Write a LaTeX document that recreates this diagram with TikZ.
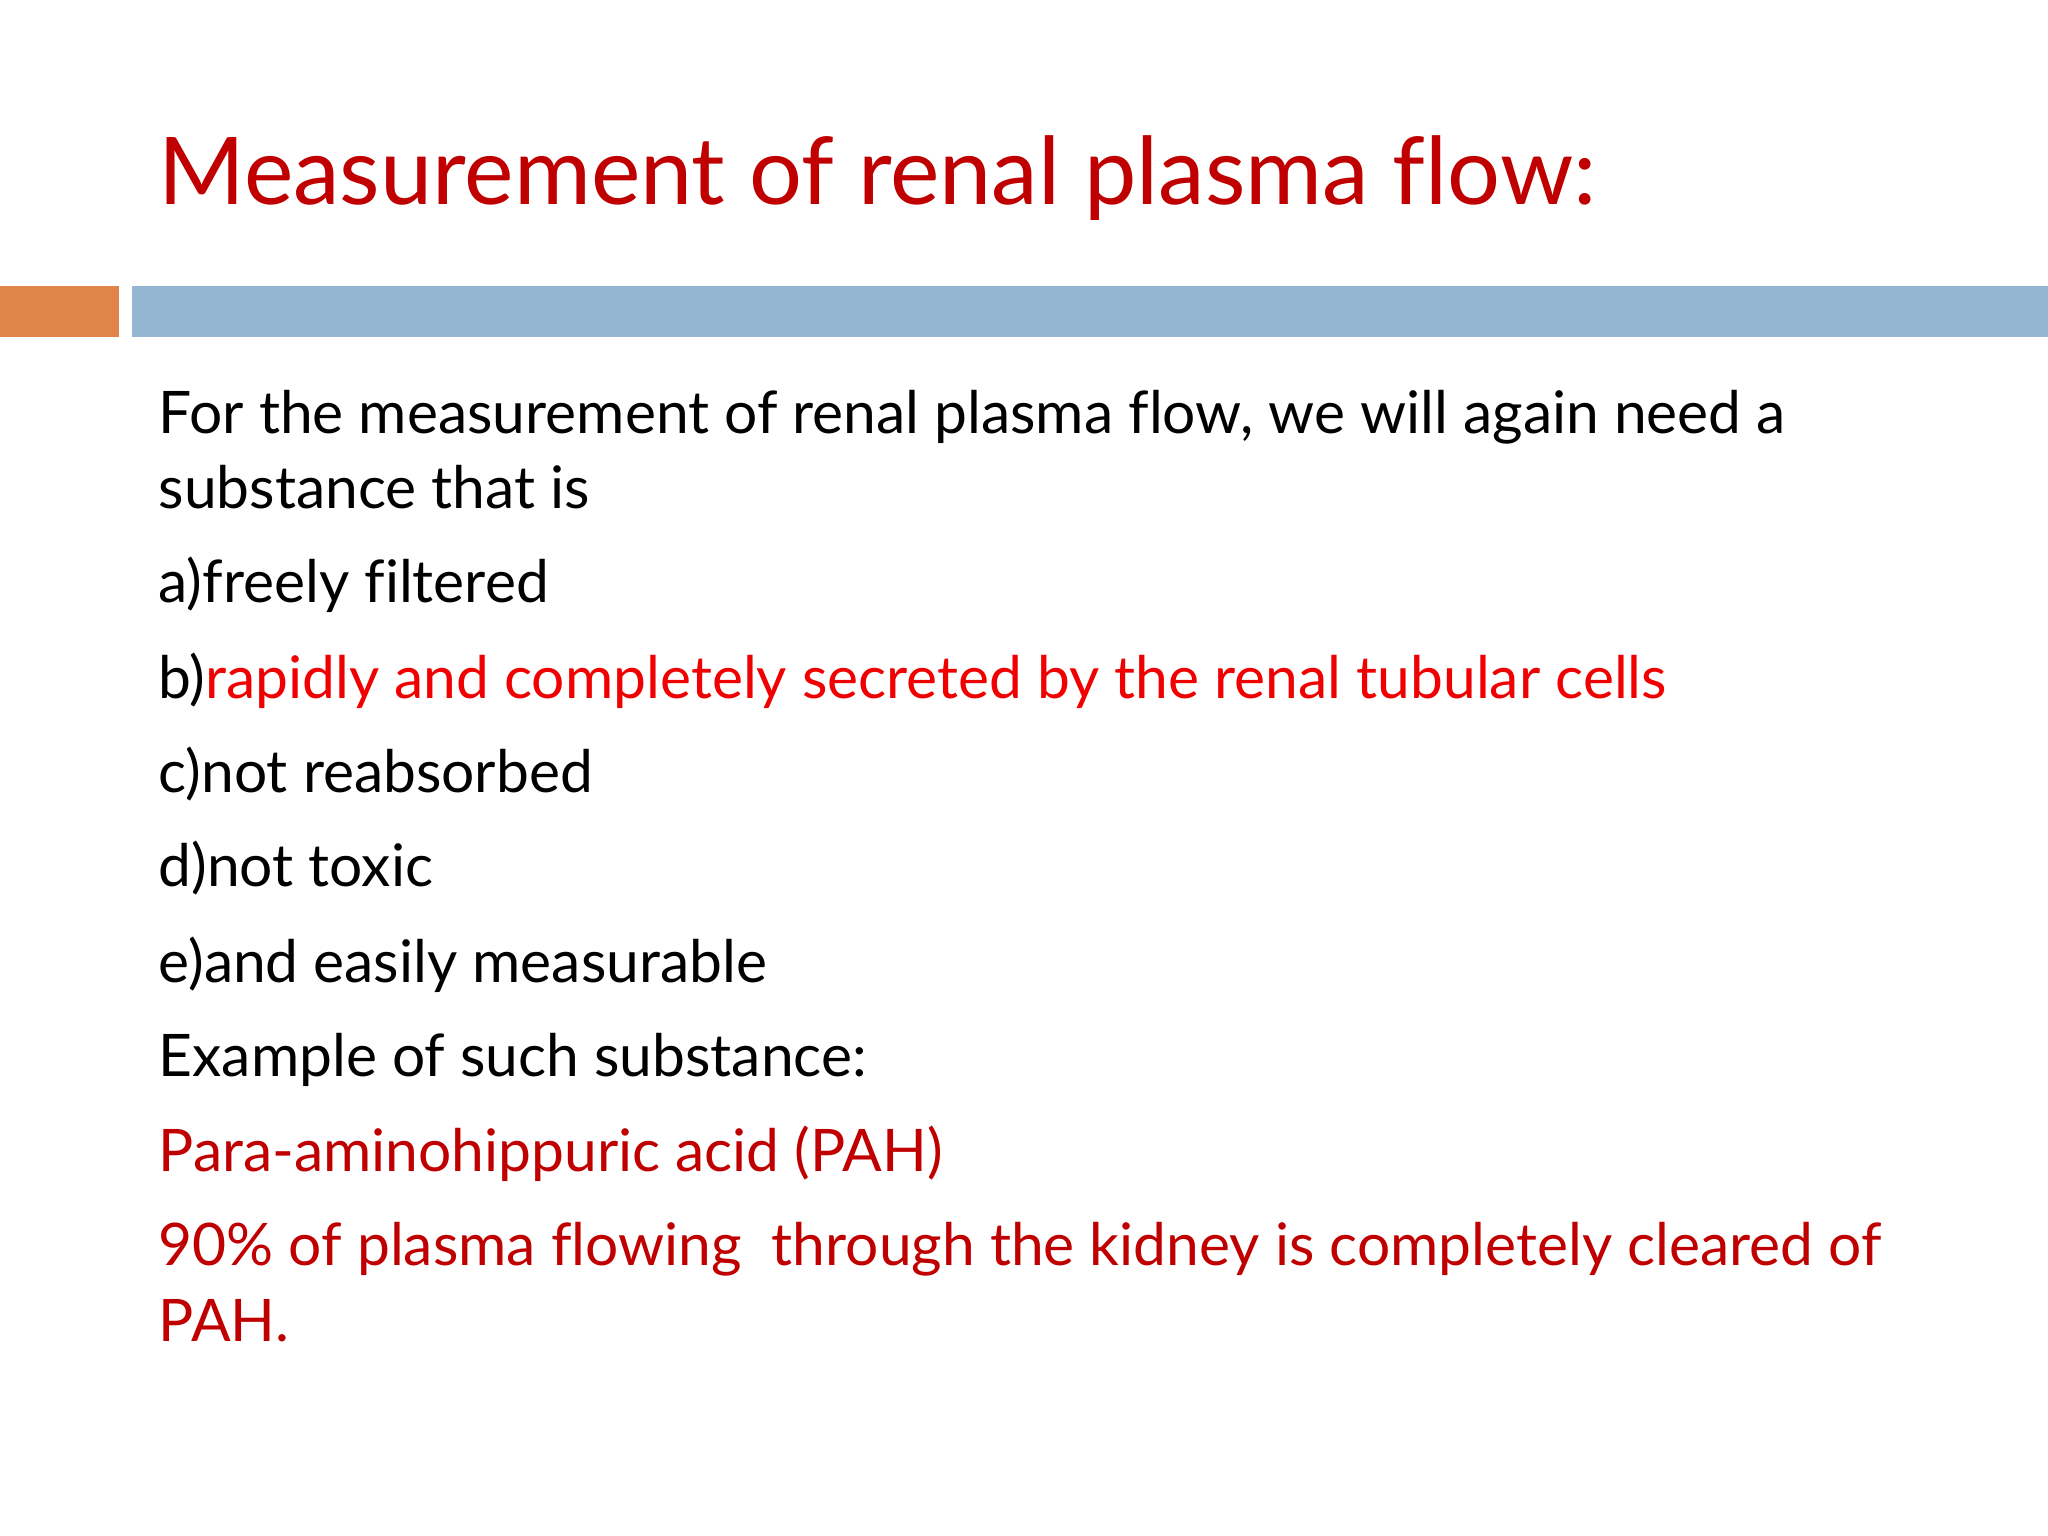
\documentclass[tikz,border=0pt]{standalone}
\usepackage{fontspec}
\setmainfont[Ligatures=NoCommon]{Lato}
\definecolor{tred}{HTML}{C00000}
\definecolor{bred}{HTML}{F00000}
\definecolor{orng}{HTML}{E0844A}
\definecolor{bblue}{HTML}{94B6D2}
\begin{document}
\begin{tikzpicture}[x=1cm,y=1cm,
  body/.style={anchor=base west,inner sep=0pt,font=\fontsize{16.7}{20}\selectfont},
  ttl/.style={anchor=base west,inner sep=0pt,font=\fontsize{26.6}{32}\selectfont,text=tred}]
\useasboundingbox[fill=white] (0,0) rectangle (20.48,-15.36);
\fill[orng] (0,-2.86) rectangle (1.19,-3.37);
\fill[bblue] (1.32,-2.86) rectangle (20.48,-3.37);
\node[ttl] (t) at (1.58,-2.05) {Measurement of renal plasma flow:};
\node[body] (l1) at (1.58,-4.34) {For the measurement of renal plasma flow, we will again need a};
\node[body] (l2) at (1.58,-5.09) {substance that is};
\node[body] (l3) at (1.58,-6.03) {a)freely filtered};
\node[body] (l4) at (1.58,-6.99) {b)\textcolor{bred}{rapidly and completely secreted by the renal tubular cells}};
\node[body] (l5) at (1.58,-7.93) {c)not reabsorbed};
\node[body] (l6) at (1.58,-8.87) {d)not toxic};
\node[body] (l7) at (1.58,-9.82) {e)and easily measurable};
\node[body] (l8) at (1.58,-10.76) {Example of such substance:};
\node[body,text=tred] (l9) at (1.58,-11.71) {Para-aminohippuric acid (PAH)};
\node[body,text=tred] (l10) at (1.58,-12.65) {90\% of plasma flowing\ \ through the kidney is completely cleared of};
\node[body,text=tred] (l11) at (1.58,-13.41) {PAH.};
\end{tikzpicture}
\end{document}
